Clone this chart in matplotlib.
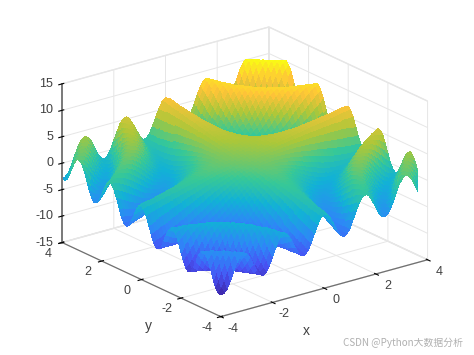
import numpy as np
import matplotlib
matplotlib.use("Agg")
import matplotlib.pyplot as plt
from matplotlib.colors import LinearSegmentedColormap
from mpl_toolkits.mplot3d import proj3d

plt.rcParams["font.family"] = ["Liberation Sans", "DejaVu Sans"]
plt.rcParams["axes.unicode_minus"] = False

# grid positions for |x| and |y|, mirrored below for the negative side
abs_positions = [0.0, 0.125, 0.25, 0.375, 0.5, 0.625, 0.75, 0.875, 1.0, 1.125, 1.25, 1.375, 1.5, 1.625, 1.75, 1.875, 2.0,
                 2.125, 2.25, 2.375, 2.5, 2.625, 2.75, 2.875, 3.0, 3.125, 3.25, 3.375, 3.5, 3.625, 3.75, 3.875, 4.0]

# estimated ripple height over the tilted plane, rows |x|, columns |y|
# estimates checked against the peaks and dips on the edges, they follow 3*cos(x*y) closely
ripple = [
    [3.0, 3.0, 3.0, 3.0, 3.0, 3.0, 3.0, 3.0, 3.0, 3.0, 3.0, 3.0, 3.0, 3.0, 3.0, 3.0, 3.0, 3.0, 3.0, 3.0, 3.0, 3.0, 3.0, 3.0, 3.0, 3.0, 3.0, 3.0, 3.0, 3.0, 3.0, 3.0, 3.0],
    [3.0, 3.0, 3.0, 3.0, 3.0, 3.0, 3.0, 3.0, 3.0, 3.0, 3.0, 3.0, 2.9, 2.9, 2.9, 2.9, 2.9, 2.9, 2.9, 2.9, 2.9, 2.8, 2.8, 2.8, 2.8, 2.8, 2.8, 2.7, 2.7, 2.7, 2.7, 2.7, 2.6],
    [3.0, 3.0, 3.0, 3.0, 3.0, 3.0, 2.9, 2.9, 2.9, 2.9, 2.9, 2.8, 2.8, 2.8, 2.7, 2.7, 2.6, 2.6, 2.5, 2.5, 2.4, 2.4, 2.3, 2.3, 2.2, 2.1, 2.1, 2.0, 1.9, 1.9, 1.8, 1.7, 1.6],
    [3.0, 3.0, 3.0, 3.0, 2.9, 2.9, 2.9, 2.8, 2.8, 2.7, 2.7, 2.6, 2.5, 2.5, 2.4, 2.3, 2.2, 2.1, 2.0, 1.9, 1.8, 1.6, 1.5, 1.4, 1.3, 1.2, 1.0, 0.9, 0.8, 0.6, 0.5, 0.4, 0.2],
    [3.0, 3.0, 3.0, 2.9, 2.9, 2.9, 2.8, 2.7, 2.6, 2.5, 2.4, 2.3, 2.2, 2.1, 1.9, 1.8, 1.6, 1.5, 1.3, 1.1, 0.9, 0.8, 0.6, 0.4, 0.2, 0.0, -0.2, -0.4, -0.5, -0.7, -0.9, -1.1, -1.2],
    [3.0, 3.0, 3.0, 2.9, 2.9, 2.8, 2.7, 2.6, 2.4, 2.3, 2.1, 2.0, 1.8, 1.6, 1.4, 1.2, 0.9, 0.7, 0.5, 0.3, 0.0, -0.2, -0.4, -0.7, -0.9, -1.1, -1.3, -1.5, -1.7, -1.9, -2.1, -2.3, -2.4],
    [3.0, 3.0, 2.9, 2.9, 2.8, 2.7, 2.5, 2.4, 2.2, 2.0, 1.8, 1.5, 1.3, 1.0, 0.8, 0.5, 0.2, -0.1, -0.3, -0.6, -0.9, -1.2, -1.4, -1.7, -1.9, -2.1, -2.3, -2.5, -2.6, -2.7, -2.8, -2.9, -3.0],
    [3.0, 3.0, 2.9, 2.8, 2.7, 2.6, 2.4, 2.2, 1.9, 1.7, 1.4, 1.1, 0.8, 0.4, 0.1, -0.2, -0.5, -0.9, -1.2, -1.5, -1.7, -2.0, -2.2, -2.4, -2.6, -2.8, -2.9, -2.9, -3.0, -3.0, -3.0, -2.9, -2.8],
    [3.0, 3.0, 2.9, 2.8, 2.6, 2.4, 2.2, 1.9, 1.6, 1.3, 0.9, 0.6, 0.2, -0.2, -0.5, -0.9, -1.2, -1.6, -1.9, -2.2, -2.4, -2.6, -2.8, -2.9, -3.0, -3.0, -3.0, -2.9, -2.8, -2.7, -2.5, -2.2, -2.0],
    [3.0, 3.0, 2.9, 2.7, 2.5, 2.3, 2.0, 1.7, 1.3, 0.9, 0.5, 0.1, -0.3, -0.8, -1.2, -1.5, -1.9, -2.2, -2.4, -2.7, -2.8, -2.9, -3.0, -3.0, -2.9, -2.8, -2.6, -2.4, -2.1, -1.8, -1.4, -1.0, -0.6],
    [3.0, 3.0, 2.9, 2.7, 2.4, 2.1, 1.8, 1.4, 0.9, 0.5, 0.0, -0.4, -0.9, -1.3, -1.7, -2.1, -2.4, -2.6, -2.8, -3.0, -3.0, -3.0, -2.9, -2.7, -2.5, -2.2, -1.8, -1.4, -1.0, -0.5, -0.1, 0.4, 0.9],
    [3.0, 3.0, 2.8, 2.6, 2.3, 2.0, 1.5, 1.1, 0.6, 0.1, -0.4, -0.9, -1.4, -1.8, -2.2, -2.5, -2.8, -2.9, -3.0, -3.0, -2.9, -2.7, -2.4, -2.1, -1.7, -1.2, -0.7, -0.2, 0.3, 0.8, 1.3, 1.7, 2.1],
    [3.0, 2.9, 2.8, 2.5, 2.2, 1.8, 1.3, 0.8, 0.2, -0.3, -0.9, -1.4, -1.9, -2.3, -2.6, -2.8, -3.0, -3.0, -2.9, -2.7, -2.5, -2.1, -1.7, -1.2, -0.6, -0.1, 0.5, 1.0, 1.5, 2.0, 2.4, 2.7, 2.9],
    [3.0, 2.9, 2.8, 2.5, 2.1, 1.6, 1.0, 0.4, -0.2, -0.8, -1.3, -1.8, -2.3, -2.6, -2.9, -3.0, -3.0, -2.9, -2.6, -2.2, -1.8, -1.3, -0.7, -0.1, 0.5, 1.1, 1.6, 2.1, 2.5, 2.8, 2.9, 3.0, 2.9],
    [3.0, 2.9, 2.7, 2.4, 1.9, 1.4, 0.8, 0.1, -0.5, -1.2, -1.7, -2.2, -2.6, -2.9, -3.0, -3.0, -2.8, -2.5, -2.1, -1.6, -1.0, -0.3, 0.3, 0.9, 1.5, 2.1, 2.5, 2.8, 3.0, 3.0, 2.9, 2.6, 2.3],
    [3.0, 2.9, 2.7, 2.3, 1.8, 1.2, 0.5, -0.2, -0.9, -1.5, -2.1, -2.5, -2.8, -3.0, -3.0, -2.8, -2.5, -2.0, -1.4, -0.8, -0.1, 0.6, 1.3, 1.9, 2.4, 2.7, 2.9, 3.0, 2.9, 2.6, 2.2, 1.7, 1.0],
    [3.0, 2.9, 2.6, 2.2, 1.6, 0.9, 0.2, -0.5, -1.2, -1.9, -2.4, -2.8, -3.0, -3.0, -2.8, -2.5, -2.0, -1.3, -0.6, 0.1, 0.9, 1.5, 2.1, 2.6, 2.9, 3.0, 2.9, 2.7, 2.3, 1.7, 1.0, 0.3, -0.4],
    [3.0, 2.9, 2.6, 2.1, 1.5, 0.7, -0.1, -0.9, -1.6, -2.2, -2.6, -2.9, -3.0, -2.9, -2.5, -2.0, -1.3, -0.6, 0.2, 1.0, 1.7, 2.3, 2.7, 2.9, 3.0, 2.8, 2.4, 1.9, 1.2, 0.4, -0.4, -1.1, -1.8],
    [3.0, 2.9, 2.5, 2.0, 1.3, 0.5, -0.3, -1.2, -1.9, -2.4, -2.8, -3.0, -2.9, -2.6, -2.1, -1.4, -0.6, 0.2, 1.0, 1.8, 2.4, 2.8, 3.0, 3.0, 2.7, 2.2, 1.5, 0.8, -0.1, -0.9, -1.7, -2.3, -2.7],
    [3.0, 2.9, 2.5, 1.9, 1.1, 0.3, -0.6, -1.5, -2.2, -2.7, -3.0, -3.0, -2.7, -2.2, -1.6, -0.8, 0.1, 1.0, 1.8, 2.4, 2.8, 3.0, 2.9, 2.6, 2.0, 1.2, 0.4, -0.5, -1.3, -2.1, -2.6, -2.9, -3.0],
    [3.0, 2.9, 2.4, 1.8, 0.9, 0.0, -0.9, -1.7, -2.4, -2.8, -3.0, -2.9, -2.5, -1.8, -1.0, -0.1, 0.9, 1.7, 2.4, 2.8, 3.0, 2.9, 2.5, 1.9, 1.0, 0.1, -0.8, -1.7, -2.3, -2.8, -3.0, -2.9, -2.5],
    [3.0, 2.8, 2.4, 1.7, 0.8, -0.2, -1.2, -2.0, -2.6, -2.9, -3.0, -2.7, -2.1, -1.3, -0.3, 0.6, 1.5, 2.3, 2.8, 3.0, 2.9, 2.5, 1.8, 0.9, -0.1, -1.0, -1.9, -2.5, -2.9, -3.0, -2.7, -2.2, -1.4],
    [3.0, 2.8, 2.3, 1.5, 0.6, -0.4, -1.4, -2.2, -2.8, -3.0, -2.9, -2.4, -1.7, -0.7, 0.3, 1.3, 2.1, 2.7, 3.0, 2.9, 2.5, 1.8, 0.9, -0.2, -1.2, -2.0, -2.7, -3.0, -2.9, -2.6, -1.9, -1.0, 0.0],
    [3.0, 2.8, 2.3, 1.4, 0.4, -0.7, -1.7, -2.4, -2.9, -3.0, -2.7, -2.1, -1.2, -0.1, 0.9, 1.9, 2.6, 3.0, 3.0, 2.6, 1.9, 0.9, -0.2, -1.2, -2.1, -2.7, -3.0, -2.9, -2.4, -1.6, -0.6, 0.5, 1.6],
    [3.0, 2.8, 2.2, 1.3, 0.2, -0.9, -1.9, -2.6, -3.0, -2.9, -2.5, -1.7, -0.6, 0.5, 1.5, 2.4, 2.9, 3.0, 2.7, 2.0, 1.0, -0.1, -1.2, -2.1, -2.7, -3.0, -2.8, -2.3, -1.4, -0.3, 0.8, 1.8, 2.5],
    [3.0, 2.8, 2.1, 1.2, 0.0, -1.1, -2.1, -2.8, -3.0, -2.8, -2.2, -1.2, -0.1, 1.1, 2.1, 2.7, 3.0, 2.8, 2.2, 1.2, 0.1, -1.0, -2.0, -2.7, -3.0, -2.8, -2.2, -1.3, -0.2, 1.0, 2.0, 2.7, 3.0],
    [3.0, 2.8, 2.1, 1.0, -0.2, -1.3, -2.3, -2.9, -3.0, -2.6, -1.8, -0.7, 0.5, 1.6, 2.5, 2.9, 2.9, 2.4, 1.5, 0.4, -0.8, -1.9, -2.7, -3.0, -2.8, -2.2, -1.3, -0.1, 1.1, 2.1, 2.8, 3.0, 2.7],
    [3.0, 2.7, 2.0, 0.9, -0.4, -1.5, -2.5, -2.9, -2.9, -2.4, -1.4, -0.2, 1.0, 2.1, 2.8, 3.0, 2.7, 1.9, 0.8, -0.5, -1.7, -2.5, -3.0, -2.9, -2.3, -1.3, -0.1, 1.1, 2.1, 2.8, 3.0, 2.6, 1.8],
    [3.0, 2.7, 1.9, 0.8, -0.5, -1.7, -2.6, -3.0, -2.8, -2.1, -1.0, 0.3, 1.5, 2.5, 3.0, 2.9, 2.3, 1.2, -0.1, -1.3, -2.3, -2.9, -2.9, -2.4, -1.4, -0.2, 1.1, 2.1, 2.9, 3.0, 2.5, 1.6, 0.4],
    [3.0, 2.7, 1.9, 0.6, -0.7, -1.9, -2.7, -3.0, -2.7, -1.8, -0.5, 0.8, 2.0, 2.8, 3.0, 2.6, 1.7, 0.4, -0.9, -2.1, -2.8, -3.0, -2.6, -1.6, -0.3, 1.0, 2.1, 2.8, 3.0, 2.5, 1.5, 0.3, -1.1],
    [3.0, 2.7, 1.8, 0.5, -0.9, -2.1, -2.8, -3.0, -2.5, -1.4, -0.1, 1.3, 2.4, 2.9, 2.9, 2.2, 1.0, -0.4, -1.7, -2.6, -3.0, -2.7, -1.9, -0.6, 0.8, 2.0, 2.8, 3.0, 2.5, 1.5, 0.2, -1.2, -2.3],
    [3.0, 2.7, 1.7, 0.4, -1.1, -2.2, -2.9, -2.9, -2.2, -1.0, 0.4, 1.7, 2.7, 3.0, 2.6, 1.7, 0.3, -1.1, -2.3, -2.9, -2.9, -2.2, -1.0, 0.5, 1.8, 2.7, 3.0, 2.6, 1.6, 0.3, -1.2, -2.3, -2.9],
    [3.0, 2.6, 1.6, 0.2, -1.2, -2.4, -3.0, -2.8, -2.0, -0.6, 0.9, 2.1, 2.9, 2.9, 2.3, 1.0, -0.4, -1.8, -2.7, -3.0, -2.5, -1.4, 0.0, 1.6, 2.5, 3.0, 2.7, 1.8, 0.4, -1.1, -2.3, -2.9, -2.9],
]

x_ticks = [-4, -2, 0, 2, 4]
y_ticks = [-4, -2, 0, 2, 4]
z_ticks = [-15, -10, -5, 0, 5, 10, 15]

parula = LinearSegmentedColormap.from_list("parula", [
    (0.2422, 0.1504, 0.6603), (0.2810, 0.3228, 0.9579), (0.1786, 0.5289, 0.9682),
    (0.0689, 0.6948, 0.8394), (0.2161, 0.7843, 0.5923), (0.6720, 0.7793, 0.2227),
    (0.9970, 0.7659, 0.2199), (0.9769, 0.9839, 0.0805)])

half_axis = np.array(abs_positions)
axis_values = np.concatenate([-half_axis[:0:-1], half_axis])
half = np.array(ripple)
top = np.hstack([half[:, :0:-1], half])
full = np.vstack([top[:0:-1], top])
xx, yy = np.meshgrid(axis_values, axis_values, indexing="ij")
zz = xx + yy + full

fig = plt.figure(figsize=(4.74, 3.55), dpi=100)
ax = fig.add_axes([0.0064, 0.0025, 1, 1], projection="3d", proj_type="ortho")
ax.view_init(elev=21, azim=-127.5)
ax.set_box_aspect((1, 1, 0.652), zoom=1.11)

ax.plot_surface(xx, yy, zz, rstride=1, cstride=1, cmap=parula, vmin=-11, vmax=10,
                linewidth=0, antialiased=False, shade=False)

ax.set_xlim(-4, 4)
ax.set_ylim(-4, 4)
ax.set_zlim(-15, 15)
ax.set_xticks(x_ticks)
ax.set_yticks(y_ticks)
ax.set_zticks(z_ticks)
ax.set_xticklabels([])
ax.set_yticklabels([])
ax.set_zticklabels([])

for axis in [ax.xaxis, ax.yaxis, ax.zaxis]:
    axis.set_pane_color((1, 1, 1, 1))
    axis.pane.set_edgecolor("#e6e6e6")
    axis.line.set_color("#707070")
    axis.line.set_linewidth(0.9)
    axis._axinfo["grid"]["color"] = "#e6e6e6"
    axis._axinfo["grid"]["linewidth"] = 0.7
    axis._axinfo["tick"]["color"] = "#707070"
ax.zaxis.line.set_linewidth(1.3)


def tick_label(x, y, z, text, dx, dy, ha="center"):
    # mplot3d only offers a pad, so the tick labels go next to the projected tick
    px, py, _ = proj3d.proj_transform(x, y, z, ax.M)
    ax.annotate(text, xy=(px, py), xycoords="data", xytext=(dx, dy), textcoords="offset pixels",
                ha=ha, va="center", fontsize=9, color="#404040", annotation_clip=False)


fig.canvas.draw()
for t in x_ticks:
    tick_label(t, -4, -15, str(t), 12, -12)
for t in y_ticks:
    tick_label(-4, t, -15, str(t), -14, -11)
for t in z_ticks:
    tick_label(-4, 4, t, str(t), -9, 0, ha="right")

fig.text(306 / 474, 1 - 331 / 355, "x", ha="center", va="center", fontsize=10, color="#404040")
fig.text(148 / 474, 1 - 326 / 355, "y", ha="center", va="center", fontsize=10, color="#404040")
fig.text(0.977, 0.02, "CSDN @Python大数据分析", ha="right", va="bottom", fontsize=7.1,
         color="#b0b0b0", family=["Noto Sans CJK SC", "DejaVu Sans"])

fig.savefig("out.png", dpi=100)
